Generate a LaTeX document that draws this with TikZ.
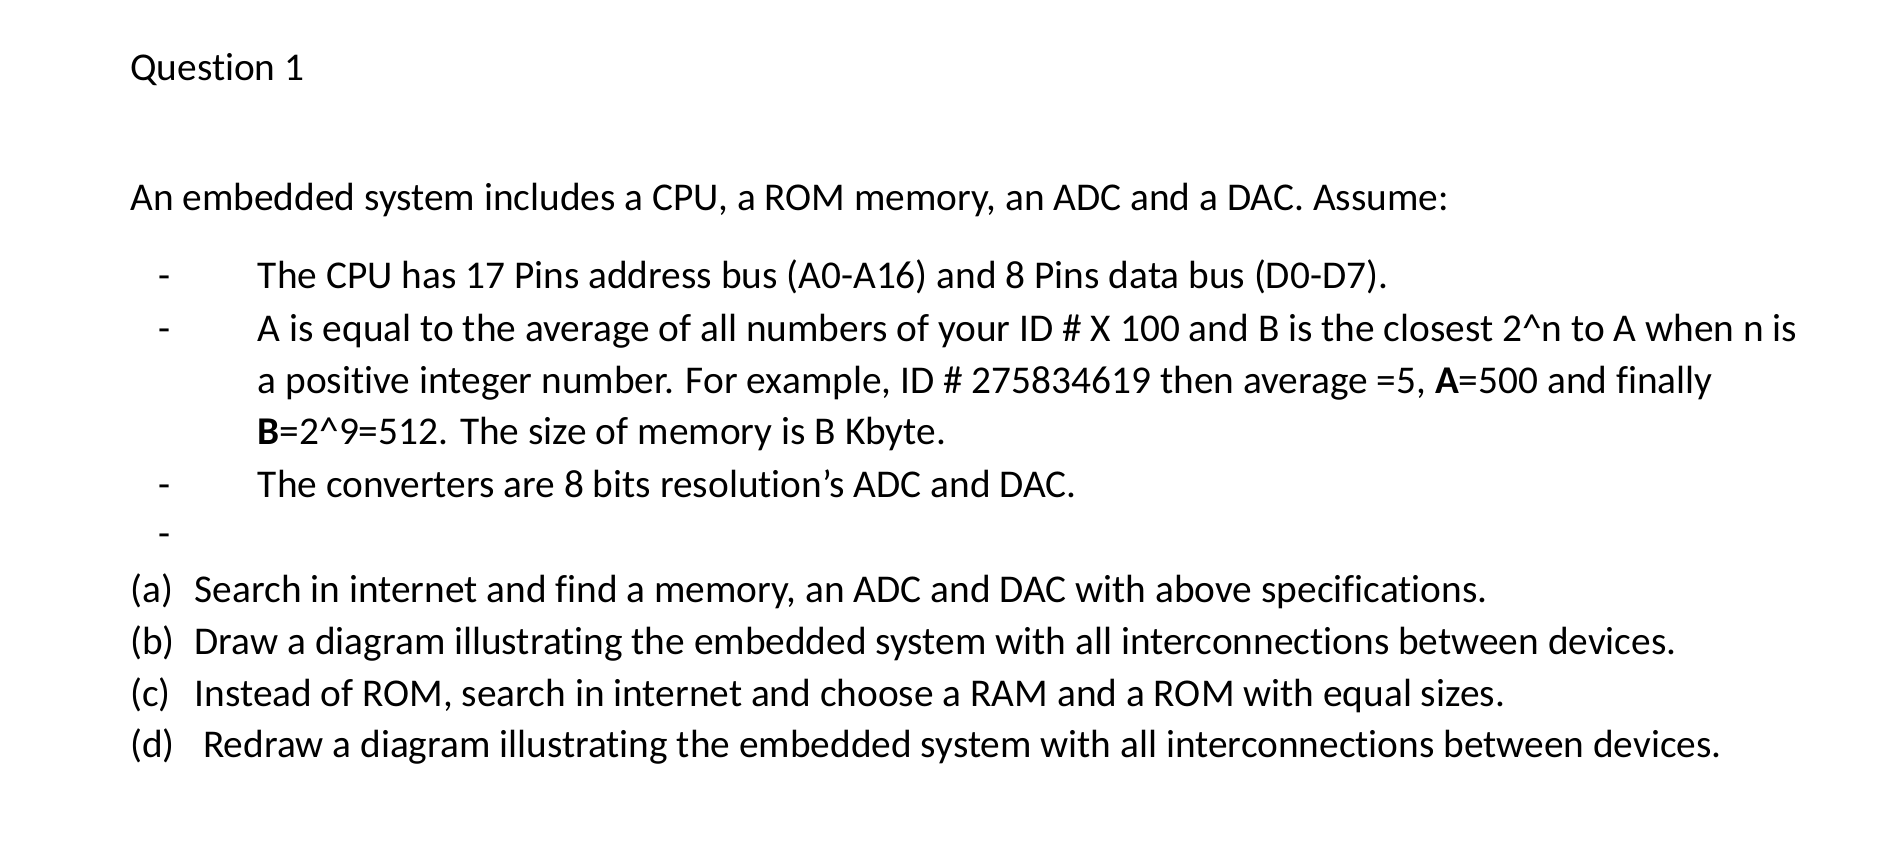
\documentclass[tikz,border=0pt]{standalone}
\usepackage{fontspec}
\setmainfont{Carlito}[Ligatures=NoCommon]
\begin{document}
\begin{tikzpicture}[x=0.5pt,y=-0.5pt,t/.style={anchor=base west,inner sep=0pt,font=\fontsize{16.2pt}{19pt}\selectfont}]
\useasboundingbox (0,0) rectangle (1560,708);
\node[t] (q) at (107,66) {Question 1};
\node[t] (i) at (107,173) {An embedded system includes a CPU, a ROM memory, an ADC and a DAC. Assume:};
\node[t] (d1) at (130,238) {-};
\node[t] (l1) at (212,238) {The CPU has 17 Pins address bus (A0-A16) and 8 Pins data bus (D0-D7).};
\node[t] (d2) at (130,281) {-};
\node[t] (l2) at (212,281) {A is equal to the average of all numbers of your ID \# X 100 and B is the closest 2\textasciicircum n to A when n is};
\node[t] (l3) at (212,324) {a positive integer number. For example, ID \# 275834619 then average =5, \textbf{A}=500 and finally};
\node[t] (l4) at (212,366) {\textbf{B}=2\textasciicircum 9=512. The size of memory is B Kbyte.};
\node[t] (d3) at (130,410) {-};
\node[t] (l5) at (212,410) {The converters are 8 bits resolution’s ADC and DAC.};
\node[t] (d4) at (130,450) {-};
\node[t] (a1) at (107,496) {(a)};
\node[t] (a2) at (160,496) {Search in internet and find a memory, an ADC and DAC with above specifications.};
\node[t] (b1) at (107,539) {(b)};
\node[t] (b2) at (160,539) {Draw a diagram illustrating the embedded system with all interconnections between devices.};
\node[t] (c1) at (107,582) {(c)};
\node[t] (c2) at (160,582) {Instead of ROM, search in internet and choose a RAM and a ROM with equal sizes.};
\node[t] (e1) at (107,624) {(d)};
\node[t] (e2) at (167,624) {Redraw a diagram illustrating the embedded system with all interconnections between devices.};
\end{tikzpicture}
\end{document}
